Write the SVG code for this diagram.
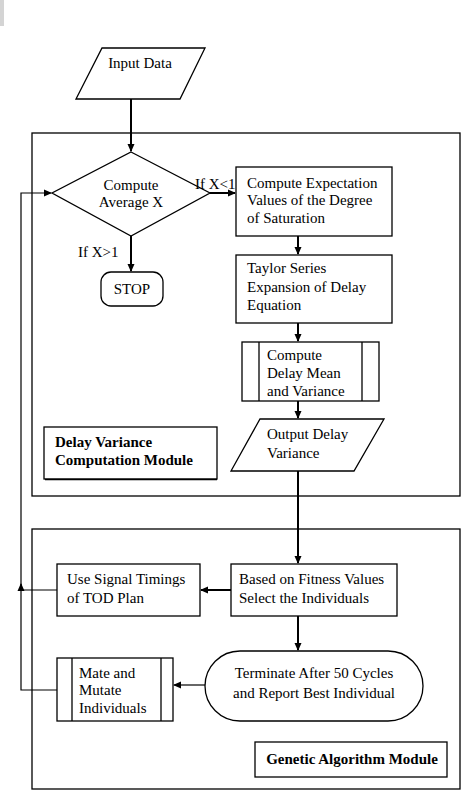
<svg xmlns="http://www.w3.org/2000/svg" width="474" height="800" viewBox="0 0 474 800">
<defs>
<marker id="ah" markerWidth="8" markerHeight="8" refX="7" refY="4" orient="auto" markerUnits="userSpaceOnUse">
<path d="M0,0.5 L8,4 L0,7.5 Z" fill="#000"/>
</marker>
<style>
.s{fill:#fff;stroke:#000;stroke-width:1.3}
.o{fill:none;stroke:#000;stroke-width:1.3}
.t{font-family:"Liberation Serif","Times New Roman",serif;font-size:15px;fill:#000}
.b{font-family:"Liberation Serif","Times New Roman",serif;font-size:15px;font-weight:bold;fill:#000}
.c{text-anchor:middle}
.k{fill:none;stroke:#000;stroke-width:2}
.f{fill:none;stroke:#000;stroke-width:1.2}
</style>
</defs>
<rect x="0" y="0" width="4" height="26" fill="#d4d4d4"/>
<g id="module1"><rect x="32" y="133" width="428" height="363" class="o"/></g>
<g id="module2"><rect x="32" y="529" width="428" height="260" class="o"/></g>
<g id="connectors">
<line x1="131" y1="99" x2="131" y2="151" class="k" marker-end="url(#ah)"/>
<line x1="210" y1="193" x2="235" y2="193" class="k" marker-end="url(#ah)"/>
<line x1="131" y1="236" x2="131" y2="271" class="k" marker-end="url(#ah)"/>
<line x1="298" y1="236" x2="298" y2="254" class="k" marker-end="url(#ah)"/>
<line x1="298" y1="323" x2="298" y2="341" class="k" marker-end="url(#ah)"/>
<line x1="298" y1="401" x2="298" y2="418" class="k" marker-end="url(#ah)"/>
<line x1="298" y1="471" x2="298" y2="563" class="k" marker-end="url(#ah)"/>
<line x1="231" y1="590" x2="201" y2="590" class="k" marker-end="url(#ah)"/>
<line x1="298" y1="616" x2="298" y2="650" class="k" marker-end="url(#ah)"/>
<line x1="205" y1="685" x2="174" y2="685" class="f" marker-end="url(#ah)"/>
<polyline points="57,690 21,690 21,584" class="f" marker-end="url(#ah)"/>
<polyline points="57,590 21,590 21,193 51,193" class="f" marker-end="url(#ah)"/>
</g>
<g id="input-data">
<polygon points="102,48 205,48 180,99 76,99" class="s"/>
<text x="140" y="68" class="t c">Input Data</text>
</g>
<g id="compute-average">
<polygon points="131,152 210,193 131,236 52,193" class="s"/>
<text x="131" y="190" class="t c">Compute</text>
<text x="131" y="207" class="t c">Average X</text>
</g>
<g id="label-lt"><text x="195" y="189" class="t">If X&lt;1</text></g>
<g id="label-gt"><text x="78" y="257" class="t">If X&gt;1</text></g>
<g id="stop">
<rect x="101" y="272" width="62" height="34" rx="10" class="s"/>
<text x="132" y="294" class="t c">STOP</text>
</g>
<g id="expectation">
<rect x="236" y="167" width="156" height="69" class="s"/>
<text x="247" y="188" class="t">Compute Expectation</text>
<text x="247" y="205" class="t">Values of the Degree</text>
<text x="247" y="223" class="t">of Saturation</text>
</g>
<g id="taylor">
<rect x="236" y="255" width="156" height="68" class="s"/>
<text x="247" y="273" class="t">Taylor Series</text>
<text x="247" y="292" class="t">Expansion of Delay</text>
<text x="247" y="310" class="t">Equation</text>
</g>
<g id="delay-mean">
<rect x="242" y="342" width="137" height="59" class="s"/>
<line x1="259" y1="342" x2="259" y2="401" class="o"/>
<line x1="362" y1="342" x2="362" y2="401" class="o"/>
<text x="267" y="360" class="t">Compute</text>
<text x="267" y="378" class="t">Delay Mean</text>
<text x="267" y="396" class="t">and Variance</text>
</g>
<g id="output-delay">
<polygon points="260,419 384,419 354,471 231,471" class="s"/>
<text x="267" y="439" class="t">Output Delay</text>
<text x="267" y="458" class="t">Variance</text>
</g>
<g id="label-dv">
<rect x="44" y="427" width="173" height="52" class="s"/>
<line x1="45" y1="479.5" x2="217" y2="479.5" stroke="#000" stroke-width="1.5"/>
<text x="55" y="447" class="b">Delay Variance</text>
<text x="55" y="465" class="b">Computation Module</text>
</g>
<g id="fitness">
<rect x="231" y="564" width="166" height="52" class="s"/>
<text x="239" y="584" class="t">Based on Fitness Values</text>
<text x="239" y="603" class="t">Select the Individuals</text>
</g>
<g id="tod">
<rect x="57" y="564" width="143" height="52" class="s"/>
<text x="67" y="584" class="t">Use Signal Timings</text>
<text x="67" y="603" class="t">of TOD Plan</text>
</g>
<g id="terminate">
<rect x="205" y="651" width="218" height="70" rx="35" class="s"/>
<text x="314" y="678" class="t c">Terminate After 50 Cycles</text>
<text x="314" y="698" class="t c">and Report Best Individual</text>
</g>
<g id="mate">
<rect x="57" y="658" width="116" height="63" class="s"/>
<line x1="72" y1="658" x2="72" y2="721" class="o"/>
<line x1="161" y1="658" x2="161" y2="721" class="o"/>
<text x="79" y="678" class="t">Mate and</text>
<text x="79" y="695" class="t">Mutate</text>
<text x="79" y="713" class="t">Individuals</text>
</g>
<g id="label-ga">
<rect x="255" y="742" width="192" height="35" class="s"/>
<text x="352" y="764" class="b c">Genetic  Algorithm Module</text>
</g>
</svg>
